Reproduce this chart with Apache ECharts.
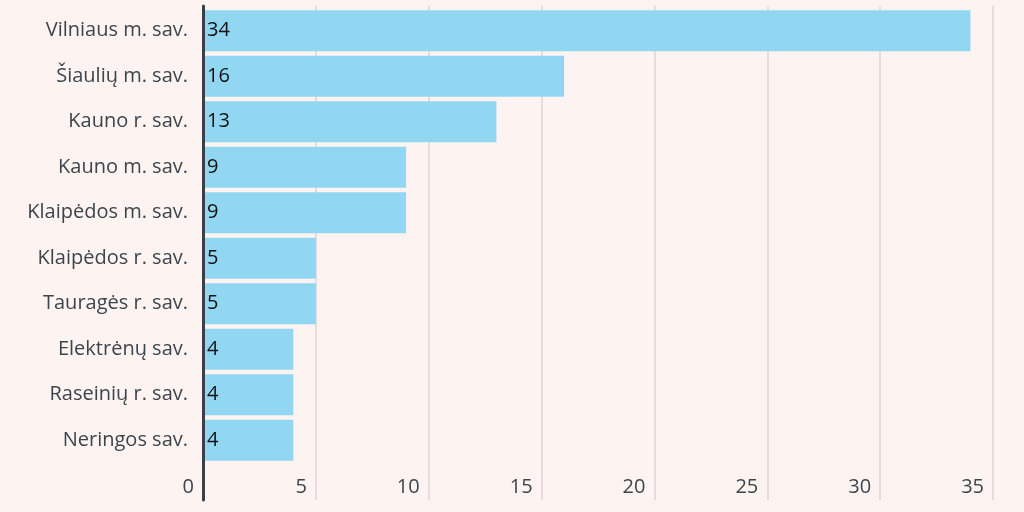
<!DOCTYPE html>
<html>
<head>
    <meta charset="utf-8">
    <title>ECharts</title>
    <style type="text/css">
        html, body {
            width: 1024px;
            height: 512px;
            margin: 0;
            padding: 0;
            background: #fdf4f2;
        }
        #main {
            width: 1024px;
            height: 512px;
        }
    </style>
    <script src="https://cdn.jsdelivr.net/npm/echarts@6/dist/echarts.min.js"></script>
</head>
<body>
<div id="main"></div>
<script type="text/javascript">
    var categories = ['Vilniaus m. sav.', 'Šiaulių m. sav.', 'Kauno r. sav.', 'Kauno m. sav.',
        'Klaipėdos m. sav.', 'Klaipėdos r. sav.', 'Tauragės r. sav.', 'Elektrėnų sav.',
        'Raseinių r. sav.', 'Neringos sav.'];
    var values = [34, 16, 13, 9, 9, 5, 5, 4, 4, 4];
    var xTicks = [0, 5, 10, 15, 20, 25, 30, 35];

    var myChart = echarts.init(document.getElementById('main'));
    var font = '"Open Sans", sans-serif';

    var option = {
        backgroundColor: '#fdf4f2',
        animation: false,
        grid: [
            // bars
            {left: 203, right: 31, top: 8, bottom: 49},
            // gridlines + axis labels, full height
            {left: 203, right: 31, top: 6, bottom: 12}
        ],
        xAxis: [
            {
                gridIndex: 0, type: 'value', min: 0, max: 35, interval: 5,
                axisLine: {show: false}, axisTick: {show: false},
                axisLabel: {show: false}, splitLine: {show: false}
            },
            {
                gridIndex: 1, type: 'value', min: xTicks[0], max: xTicks[xTicks.length - 1], interval: 5,
                axisLine: {show: false}, axisTick: {show: false},
                axisLabel: {
                    inside: true, margin: 3, align: 'right', padding: [0, 9, 0, 0],
                    color: '#3d454c', fontSize: 20, fontFamily: font,
                    formatter: function (v) { return xTicks.indexOf(v) >= 0 ? v : ''; }
                },
                splitLine: {lineStyle: {color: '#dcd6d4', width: 1.5}}
            }
        ],
        yAxis: [
            {
                gridIndex: 0, type: 'category', data: categories, inverse: true,
                axisLine: {show: false}, axisTick: {show: false},
                axisLabel: {color: '#3d454c', fontSize: 20, fontFamily: font, margin: 15}
            },
            {
                gridIndex: 1, type: 'value', min: 0, max: 1, z: 10,
                axisLine: {show: true, lineStyle: {color: '#3a4046', width: 3}},
                axisTick: {show: false}, axisLabel: {show: false}, splitLine: {show: false}
            }
        ],
        series: [{
            type: 'bar',
            xAxisIndex: 0,
            yAxisIndex: 0,
            data: values,
            barCategoryGap: '10%',
            itemStyle: {color: '#92d7f2'},
            label: {
                show: true, position: 'insideLeft', distance: 4,
                color: '#111111', fontSize: 20, fontFamily: font
            }
        }]
    };

    myChart.setOption(option);
</script>
</body>
</html>
